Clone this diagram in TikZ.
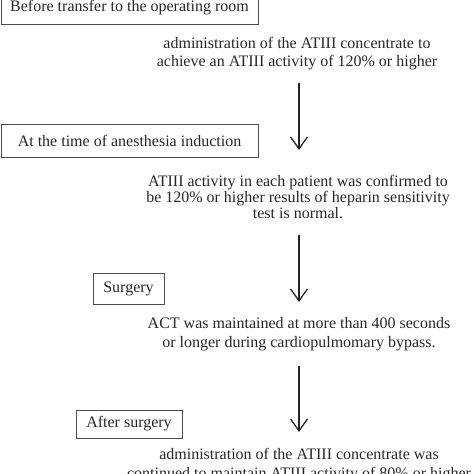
\documentclass[tikz,border=0pt]{standalone}
\usepackage{fontspec}
\setmainfont{Liberation Serif}
\usetikzlibrary{arrows.meta}
\begin{document}
\begin{tikzpicture}[x=1pt,y=1pt,
  stagebox/.style={draw=black!70,line width=0.9pt,inner sep=0pt,font=\fontsize{16}{18.5}\selectfont,text=black!85},
  note/.style={align=center,inner sep=0pt,font=\fontsize{16}{18.5}\selectfont,text=black!85},
  flowarrow/.style={line width=1.3pt,black!85,-{Straight Barb[length=12pt,width=17pt,line width=1.3pt]}}]
\useasboundingbox (0,0) rectangle (474,-474);
\node[stagebox,minimum width=257,minimum height=32] (b1) at (129.5,-8) {Before transfer to the operating room};
\node[stagebox,minimum width=257,minimum height=33] (b2) at (129.5,-140.5) {At the time of anesthesia induction};
\node[stagebox,minimum width=71,minimum height=31] (b3) at (128.5,-288.5) {Surgery};
\node[stagebox,minimum width=106,minimum height=28] (b4) at (129,-424) {After surgery};
\node[note] (t1) at (297,-53.5) {administration of the ATIII concentrate to\\achieve an ATIII activity of 120\% or higher};
\node[note,font=\fontsize{16}{14.5}\selectfont] (t2) at (298,-197) {ATIII activity in each patient was confirmed to\\be 120\% or higher results of heparin sensitivity\\test is normal.};
\node[note] (t3) at (299,-334) {ACT was maintained at more than 400 seconds\\or longer during cardiopulmomary bypass.};
\node[note,anchor=north] (t4) at (299,-448.5) {administration of the ATIII concentrate was\\continued to maintain ATIII activity of 80\% or higher};
\coordinate (a1s) at (299,-83);
\coordinate (a1e) at (299,-150);
\coordinate (a2s) at (299,-235);
\coordinate (a2e) at (299,-302);
\coordinate (a3s) at (299,-366);
\coordinate (a3e) at (299,-432);
\draw[flowarrow] (a1s) -- (a1e);
\draw[flowarrow] (a2s) -- (a2e);
\draw[flowarrow] (a3s) -- (a3e);
\end{tikzpicture}
\end{document}
